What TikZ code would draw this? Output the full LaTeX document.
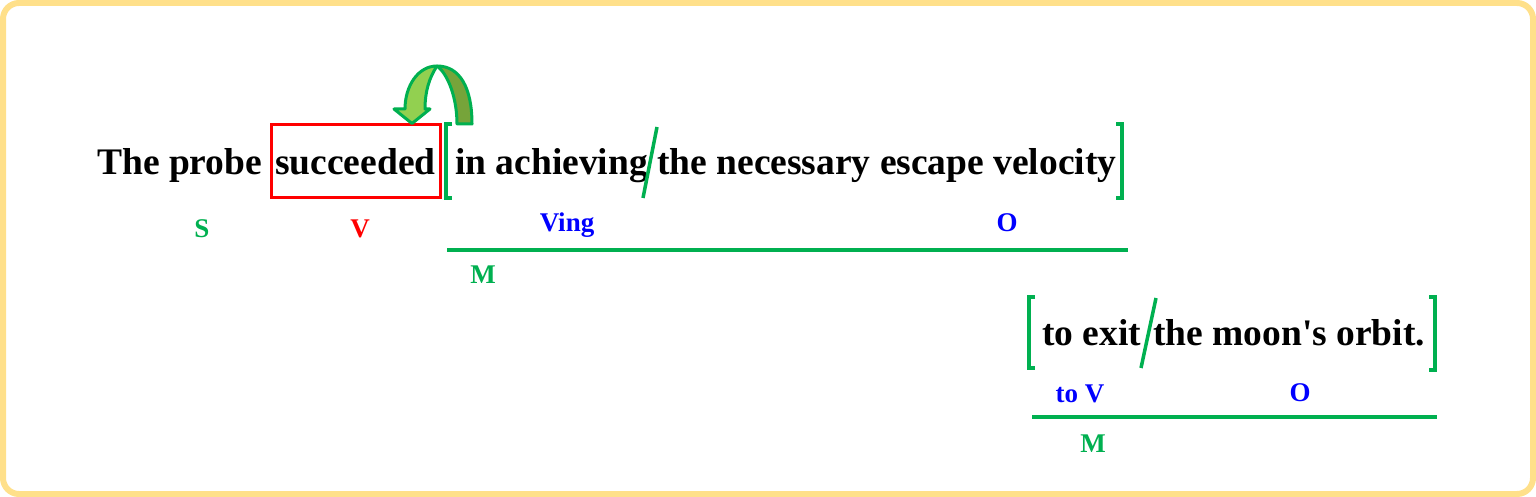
\documentclass[tikz,border=0pt]{standalone}
\usepackage{fontspec}
\newfontfamily\tnr{Liberation Serif}
\definecolor{gr}{HTML}{00B050}
\definecolor{lgr}{HTML}{92D050}
\definecolor{dgr}{HTML}{76A43A}
\definecolor{yel}{HTML}{FFE08A}
\begin{document}
\begin{tikzpicture}[x=1pt,y=-1pt,
  main/.style={inner sep=0pt,anchor=base west,font=\tnr\bfseries\fontsize{37.5}{40}\selectfont},
  lab/.style={inner sep=0pt,anchor=base,font=\tnr\bfseries\fontsize{27}{29}\selectfont},
  brk/.style={draw=gr,line width=3.5pt},
  uline/.style={draw=gr,line width=3.5pt},
  slashln/.style={draw=gr,line width=3.5pt},
  arrowpart/.style={draw=gr,line width=3pt,line join=round}]
\useasboundingbox (0,0) rectangle (1536,497);
\draw[yel,line width=6pt,fill=white,rounded corners=16pt] (3,3) rectangle (1533,494);
% line 1
\node[main] (t1) at (97,175) {The probe};
\node[main] (t2) at (275,175) {succeeded};
\node[draw=red,line width=3pt,minimum width=169pt,minimum height=73pt,inner sep=0pt] (vbox) at (355.5,161.5) {};
\node[main] (t3) at (455,175) {in achieving};
\node[main] (t4) at (657,175) {the necessary escape velocity};
\coordinate (b1a) at (446,124); \coordinate (b1b) at (1122,124);
\draw[brk] ([xshift=6pt]b1a) -- (b1a) -- ++(0,74) -- ++(6,0);
\draw[brk] ([xshift=-6pt]b1b) -- (b1b) -- ++(0,74) -- ++(-6,0);
\coordinate (s1a) at (657,127); \coordinate (s1b) at (643,198);
\draw[slashln] (s1a) -- (s1b);
% labels line 1
\node[lab,text=gr] (S) at (202,237) {S};
\node[lab,text=red] (V) at (360,237) {V};
\node[lab,text=blue] (Ving) at (567,232) {Ving};
\node[lab,text=blue] (O1) at (1007,231) {O};
\coordinate (u1a) at (447,250); \coordinate (u1b) at (1128,250);
\draw[uline] (u1a) -- (u1b);
\node[lab,text=gr] (M1) at (483,283) {M};
% line 2
\node[main] (t5) at (1042,345) {to exit};
\node[main] (t6) at (1153,345) {the moon's orbit.};
\coordinate (b2a) at (1029,297); \coordinate (b2b) at (1435,297);
\draw[brk] ([xshift=6pt]b2a) -- (b2a) -- ++(0,71) -- ++(6,0);
\draw[brk] ([xshift=-6pt]b2b) -- (b2b) -- ++(0,73) -- ++(-6,0);
\coordinate (s2a) at (1156,298); \coordinate (s2b) at (1141,368);
\draw[slashln] (s2a) -- (s2b);
\node[lab,text=blue] (toV) at (1080,402) {to V};
\node[lab,text=blue] (O2) at (1300,401) {O};
\coordinate (u2a) at (1032,417); \coordinate (u2b) at (1437,417);
\draw[uline] (u2a) -- (u2b);
\node[lab,text=gr] (M2) at (1093,452) {M};
% curved arrow
\draw[arrowpart,fill=dgr]
  (457,124) -- (472,124) .. controls (472,88) and (460,66) .. (437,66)
  .. controls (448,74) and (457,98) .. (457,124) -- cycle;
\draw[arrowpart,fill=lgr]
  (437,66) .. controls (418,66) and (405,86) .. (405,109) -- (394,109)
  -- (vbox.north -| 412,0) -- (430,109) -- (425,109)
  .. controls (425,92) and (429,78) .. (437,66) -- cycle;
\end{tikzpicture}
\end{document}
